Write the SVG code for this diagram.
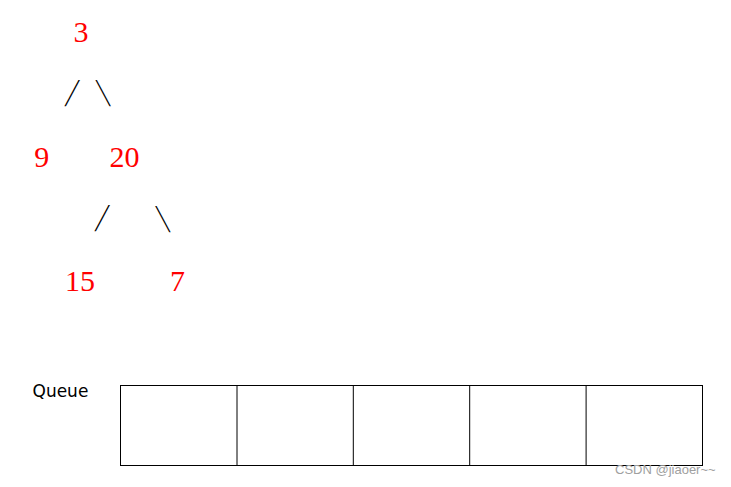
<svg xmlns="http://www.w3.org/2000/svg" width="731" height="487" viewBox="0 0 731 487">
<style>
.num{font-family:"Liberation Serif","Times New Roman",serif;font-size:30px;fill:#ff0000;text-anchor:middle}
.sl{font-family:Inter,"Lato","DejaVu Sans",sans-serif;font-weight:100;font-size:30px;fill:#000;text-anchor:middle}
.cell{fill:none;stroke:#000;stroke-width:1}
</style>
<rect width="731" height="487" fill="#fff"/>
<g id="n3"><text class="num" x="81" y="41.5">3</text></g>
<g id="n9"><text class="num" x="41.7" y="166.5">9</text></g>
<g id="n20"><text class="num" x="124.5" y="166.5">20</text></g>
<g id="n15"><text class="num" x="80" y="290.7">15</text></g>
<g id="n7"><text class="num" x="177.5" y="290.7">7</text></g>
<g id="connectors">
<text class="sl" transform="translate(72.3 103) scale(2 1)">/</text>
<text class="sl" transform="translate(103.2 103) scale(2 1)">\</text>
<text class="sl" transform="translate(102.3 228) scale(2 1)">/</text>
<text class="sl" transform="translate(163 228.5) scale(2 1)">\</text>
</g>
<g id="queue">
<text x="32.5" y="396.5" style="font-family:'DejaVu Sans',sans-serif;font-size:17px;fill:#000">Queue</text>
<rect class="cell" x="120.5" y="385.5" width="582" height="80"/>
<line class="cell" x1="237" y1="385.5" x2="237" y2="465.5"/>
<line class="cell" x1="353.3" y1="385.5" x2="353.3" y2="465.5"/>
<line class="cell" x1="469.7" y1="385.5" x2="469.7" y2="465.5"/>
<line class="cell" x1="586.1" y1="385.5" x2="586.1" y2="465.5"/>
</g>
<text x="615" y="474" style="font-family:'Liberation Sans',Arial,sans-serif;font-size:13px;fill:#a0a0a0">CSDN @jiaoer~~</text>
</svg>
